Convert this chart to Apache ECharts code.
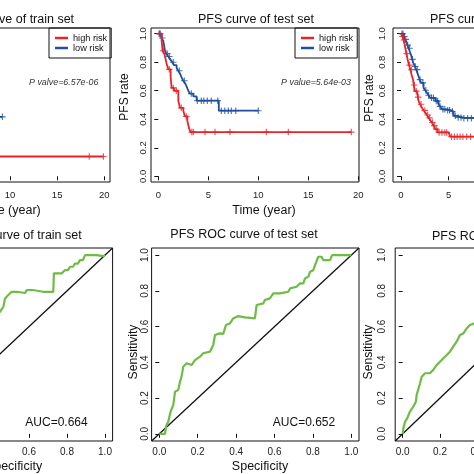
<!DOCTYPE html>
<html>
<head>
<meta charset="utf-8">
<script src="https://cdn.jsdelivr.net/npm/echarts@6/dist/echarts.min.js"></script>
<style>
html, body { margin: 0; padding: 0; background: #fff; overflow: hidden; width: 474px; height: 474px; }
/* the figure is wider than the window: the outer panels are cut off, as in the source image */
#main { position: absolute; left: -130px; top: 0; width: 760px; height: 474px; }
</style>
</head>
<body>
<div id="main"></div>
<script>
const OX = 130 // shift of the wide canvas against the window

// tick values
const survTicks = [0, 5, 10, 15, 20]
const rateTicks = [0, 0.2, 0.4, 0.6, 0.8, 1.0]
const rocTicks = [0, 0.2, 0.4, 0.6, 0.8, 1.0]

// PFS curve of train set: [time, survival after step]
const trainHigh = [[0, 1], [0.5, 0.85], [1, 0.7], [1.5, 0.55], [2, 0.42], [2.5, 0.32], [3, 0.25], [3.5, 0.2], [4.5, 0.16], [5.5, 0.139], [19.9, 0.139]]
const trainLow = [[0, 1], [0.5, 0.95], [1, 0.88], [1.5, 0.8], [2, 0.72], [3, 0.62], [4, 0.54], [5, 0.48], [6, 0.44], [7, 0.417], [9.2, 0.417]]
const trainHighCens = [6.5, 8.0, 18.4, 19.9]
const trainLowCens = [7.5, 8.3, 9.2]

// PFS curve of test set
const testHigh = [[0, 1], [0.33, 0.95], [0.43, 0.88], [0.6, 0.86], [0.67, 0.84], [0.83, 0.79], [1.0, 0.75], [1.23, 0.7], [1.33, 0.62], [1.57, 0.6], [2.0, 0.53], [2.17, 0.48], [2.5, 0.46], [2.67, 0.42], [2.9, 0.39], [3.1, 0.33], [3.23, 0.31], [19.3, 0.31]]
const testLow = [[0, 1], [0.3, 0.97], [0.5, 0.95], [0.67, 0.88], [0.8, 0.86], [1.0, 0.84], [1.2, 0.82], [1.4, 0.8], [1.57, 0.78], [1.83, 0.76], [2.0, 0.74], [2.17, 0.72], [2.35, 0.69], [2.5, 0.67], [2.7, 0.65], [2.83, 0.63], [3.0, 0.6], [3.17, 0.58], [3.5, 0.56], [3.83, 0.53], [6.05, 0.46], [10.0, 0.46]]
const testHighCens = [0.1, 0.5, 1.1, 1.5, 1.8, 2.3, 2.8, 3.35, 3.5, 4.67, 5.67, 7.17, 10.8, 13.0, 19.3]
const testLowCens = [0.1, 0.2, 0.4, 0.9, 1.1, 1.5, 2.1, 2.6, 3.3, 3.9, 4.3, 4.55, 4.9, 5.3, 5.95, 6.3, 6.65, 7.0, 7.3, 7.75, 10.0]

// PFS curve of entire set
const allHigh = [[0, 1], [0.15, 0.98], [0.28, 0.956], [0.36, 0.93], [0.45, 0.898], [0.57, 0.86], [0.7, 0.817], [0.84, 0.78], [0.98, 0.748], [1.12, 0.71], [1.26, 0.678], [1.35, 0.64], [1.43, 0.597], [1.68, 0.586], [1.77, 0.555], [1.85, 0.528], [2.0, 0.505], [2.2, 0.48], [2.38, 0.462], [2.55, 0.447], [2.72, 0.43], [2.9, 0.41], [3.08, 0.393], [3.25, 0.377], [3.42, 0.355], [3.6, 0.331], [3.84, 0.308], [5.0, 0.308], [5.17, 0.278], [16.0, 0.278]]
const allLow = [[0, 1], [0.28, 0.98], [0.42, 0.96], [0.56, 0.944], [0.68, 0.92], [0.8, 0.898], [0.92, 0.875], [1.05, 0.852], [1.18, 0.82], [1.32, 0.79], [1.46, 0.77], [1.6, 0.748], [1.72, 0.725], [1.85, 0.7], [1.97, 0.678], [2.1, 0.655], [2.37, 0.62], [2.55, 0.603], [2.72, 0.586], [2.9, 0.568], [3.07, 0.55], [3.6, 0.528], [3.95, 0.505], [4.1, 0.49], [4.3, 0.47], [4.83, 0.463], [5.25, 0.454], [5.52, 0.424], [5.87, 0.412], [6.57, 0.407], [9.0, 0.38], [16.0, 0.38]]
const allHighCens = [0.15, 0.3, 0.6, 0.9, 1.1, 1.4, 1.6, 1.8, 2.1, 2.5, 2.8, 3.0, 3.3, 3.5, 3.7, 4.0, 4.3, 4.6, 4.8, 5.3, 5.6, 5.9, 6.2, 6.5, 6.9, 7.3]
const allLowCens = [0.1, 0.2, 0.35, 0.5, 0.7, 0.9, 1.2, 1.5, 1.7, 2.0, 2.3, 2.6, 2.9, 3.2, 3.4, 3.7, 3.85, 4.1, 4.4, 4.6, 4.9, 5.1, 5.4, 5.7, 6.0, 6.3, 6.6, 7.0, 7.4]

// ROC curves: [specificity axis, sensitivity]
const trainRoc = [[0, 0], [0.02, 0.08], [0.05, 0.15], [0.1, 0.25], [0.15, 0.33], [0.2, 0.4], [0.25, 0.47], [0.3, 0.53], [0.35, 0.59], [0.4, 0.64], [0.447, 0.683], [0.465, 0.711], [0.474, 0.758], [0.491, 0.777], [0.509, 0.795], [0.535, 0.795], [0.545, 0.788], [0.58, 0.788], [0.588, 0.805], [0.62, 0.805], [0.675, 0.795], [0.728, 0.795], [0.731, 0.898], [0.772, 0.898], [0.789, 0.916], [0.805, 0.916], [0.816, 0.935], [0.832, 0.935], [0.842, 0.953], [0.858, 0.953], [0.868, 0.972], [0.884, 0.972], [0.895, 1.0], [0.956, 1.0], [0.991, 0.995], [1, 1]]
const testRoc = [[0, 0], [0.03, 0], [0.035, 0.041], [0.047, 0.069], [0.059, 0.125], [0.073, 0.162], [0.082, 0.236], [0.099, 0.246], [0.108, 0.292], [0.116, 0.32], [0.125, 0.376], [0.142, 0.395], [0.168, 0.385], [0.186, 0.413], [0.212, 0.432], [0.229, 0.451], [0.264, 0.46], [0.281, 0.497], [0.29, 0.553], [0.316, 0.562], [0.333, 0.559], [0.347, 0.609], [0.368, 0.618], [0.385, 0.646], [0.411, 0.659], [0.446, 0.652], [0.498, 0.646], [0.507, 0.721], [0.542, 0.73], [0.55, 0.749], [0.576, 0.758], [0.594, 0.786], [0.628, 0.786], [0.672, 0.795], [0.681, 0.814], [0.715, 0.823], [0.733, 0.842], [0.75, 0.842], [0.759, 0.87], [0.776, 0.879], [0.785, 0.907], [0.802, 0.916], [0.811, 0.944], [0.828, 0.991], [0.845, 0.991], [0.854, 0.972], [0.889, 0.972], [0.9, 1.0], [1.0, 1.0]]
const allRoc = [[0, 0], [0.004, 0.032], [0.013, 0.069], [0.025, 0.088], [0.039, 0.125], [0.057, 0.153], [0.071, 0.18], [0.075, 0.218], [0.084, 0.227], [0.093, 0.283], [0.102, 0.32], [0.12, 0.339], [0.128, 0.348], [0.146, 0.339], [0.164, 0.358], [0.182, 0.385], [0.2, 0.404], [0.218, 0.423], [0.236, 0.441], [0.253, 0.46], [0.271, 0.488], [0.289, 0.516], [0.307, 0.553], [0.325, 0.562], [0.343, 0.59], [0.36, 0.609], [0.382, 0.618], [0.45, 0.66], [0.55, 0.73], [0.65, 0.8], [0.75, 0.87], [0.85, 0.93], [0.95, 0.98], [1, 1]]
const refLine = [[-0.04, -0.04], [1.04, 1.04]]

const RED = '#ea2328'
const BLUE = '#1f4f9f'
const GREEN = '#6dbd44'
const FONT = '"Liberation Sans", Arial, sans-serif'
const PLUS = 'path://M-0.6,-3.5 h1.2 v2.9 h2.9 v1.2 h-2.9 v2.9 h-1.2 v-2.9 h-2.9 v-1.2 h2.9 z'

function survAt (steps, t) {
  let s = steps[0][1]
  steps.forEach((p) => { if (p[0] <= t) s = p[1] })
  return s
}

// plot boxes (x in window pixels, shifted by OX below)
const grids = [
  { left: -92, top: 28, width: 202, height: 154 },
  { left: 151, top: 28, width: 208, height: 154 },
  { left: 393, top: 28, width: 208, height: 154 },
  { left: -92.6, top: 248, width: 205.2, height: 193 },
  { left: 151.6, top: 248, width: 207.4, height: 193 },
  { left: 395.2, top: 248, width: 201.6, height: 193 }
]
const xRanges = [[-0.8, 20.6], [-0.73, 20.07], [-0.84, 21], [-0.04, 1.04], [-0.04, 1.04], [-0.04, 1.04]]
const yMargins = [3, 3, 5.5, 1, 1, 8]

let xAxes = []
let yAxes = []
grids.forEach((g, i) => {
  let surv = i < 3
  let xt = surv ? survTicks : rocTicks
  let yt = surv ? rateTicks : rocTicks
  xAxes.push({
    type: 'value',
    gridIndex: i,
    min: xRanges[i][0],
    max: xRanges[i][1],
    axisLine: { show: false },
    splitLine: { show: false },
    axisTick: { show: true, length: 4, customValues: xt, lineStyle: { color: '#111' } },
    axisLabel: {
      customValues: xt,
      color: '#222',
      fontFamily: FONT,
      fontSize: surv ? 9.5 : 10,
      margin: surv ? 8 : 6,
      formatter: (v) => surv ? String(Math.round(v)) : v.toFixed(1)
    }
  })
  yAxes.push({
    type: 'value',
    gridIndex: i,
    min: -0.04,
    max: 1.04,
    axisLine: { show: false },
    splitLine: { show: false },
    axisTick: { show: true, length: 4, customValues: yt, lineStyle: { color: '#111' } },
    axisLabel: {
      customValues: yt,
      rotate: 90,
      color: '#222',
      fontFamily: FONT,
      fontSize: surv ? 9.5 : 10,
      margin: yMargins[i],
      formatter: (v) => v.toFixed(1)
    }
  })
})

let series = []
const survSets = [
  [trainHigh, trainLow, trainHighCens, trainLowCens],
  [testHigh, testLow, testHighCens, testLowCens],
  [allHigh, allLow, allHighCens, allLowCens]
]
survSets.forEach((set, i) => {
  [[set[0], set[2], 'high risk', RED], [set[1], set[3], 'low risk', BLUE]].forEach((c) => {
    series.push({
      type: 'line',
      name: c[2],
      step: 'end',
      xAxisIndex: i,
      yAxisIndex: i,
      data: c[0],
      showSymbol: false,
      lineStyle: { color: c[3], width: 1.8 },
      itemStyle: { color: c[3] },
      z: c[3] === RED ? 3 : 2
    })
    // censor marks
    series.push({
      type: 'scatter',
      name: c[2] + ' censored',
      xAxisIndex: i,
      yAxisIndex: i,
      data: c[1].map((t) => [t, survAt(c[0], t)]),
      symbol: PLUS,
      symbolSize: 6.5,
      itemStyle: { color: c[3] },
      z: c[3] === RED ? 3 : 2
    })
  })
})
;[trainRoc, testRoc, allRoc].forEach((roc, k) => {
  let i = k + 3
  series.push({
    type: 'line',
    name: 'diag',
    xAxisIndex: i,
    yAxisIndex: i,
    data: refLine,
    showSymbol: false,
    lineStyle: { color: '#111', width: 1.3 },
    z: 2
  })
  series.push({
    type: 'line',
    name: 'roc',
    xAxisIndex: i,
    yAxisIndex: i,
    data: roc,
    showSymbol: false,
    lineStyle: { color: GREEN, width: 2.2 },
    z: 3
  })
})

function legendAt (left) {
  return {
    data: ['high risk', 'low risk'],
    orient: 'vertical',
    left: left + OX,
    top: 28,
    icon: 'rect',
    itemWidth: 13,
    itemHeight: 2.5,
    itemGap: 0,
    padding: [5, 4, 5, 6],
    borderColor: '#111',
    borderWidth: 1,
    borderRadius: 0,
    selectedMode: false,
    textStyle: { fontFamily: FONT, fontSize: 9.2, color: '#111', lineHeight: 10 }
  }
}

function txt (text, x, y, size, opts) {
  opts = opts || {}
  return {
    type: 'text',
    x: x + OX,
    y: y,
    rotation: opts.rot ? Math.PI / 2 : 0,
    style: {
      text: text,
      font: (opts.italic ? 'italic ' : '') + size + 'px ' + FONT,
      fill: opts.fill || '#111',
      align: opts.align || 'center',
      verticalAlign: 'middle'
    }
  }
}

const graphics = [
  txt('PFS curve of train set', 14, 20, 12.5),
  txt('PFS curve of test set', 256, 20, 12.5),
  txt('PFS curve of entire set', 430, 20, 12.5, { align: 'left' }),
  txt('PFS ROC curve of train set', 6, 236, 12.5),
  txt('PFS ROC curve of test set', 244, 235, 12.5),
  txt('PFS ROC curve of entire set', 432, 236.5, 12.5, { align: 'left' }),
  txt('Time (year)', 9, 211, 12.5),
  txt('Time (year)', 264, 211, 12.5),
  txt('Time (year)', 512, 211, 12.5),
  txt('Specificity', 14, 467, 12.5),
  txt('Specificity', 260, 467, 12.5),
  txt('Specificity', 508, 467, 12.5),
  txt('PFS rate', -118, 97, 12, { rot: true }),
  txt('PFS rate', 125, 97, 12, { rot: true }),
  txt('PFS rate', 370, 98, 12, { rot: true }),
  txt('Sensitivity', -110, 352, 12.2, { rot: true }),
  txt('Sensitivity', 133.3, 352, 12.2, { rot: true }),
  txt('Sensitivity', 368.3, 352, 12.2, { rot: true }),
  txt('P valve=6.57e-06', 63.7, 82.3, 8.9, { italic: true, fill: '#333' }),
  txt('P value=5.64e-03', 316, 82.3, 8.9, { italic: true, fill: '#333' }),
  txt('AUC=0.664', 56.5, 423, 12),
  txt('AUC=0.652', 304, 423, 12)
]

let myChart = echarts.init(document.getElementById('main'))
let option = {
  animation: false,
  backgroundColor: '#fff',
  grid: grids.map((g) => Object.assign({ show: true, borderColor: '#111', borderWidth: 1, backgroundColor: 'transparent' }, g, { left: g.left + OX })),
  xAxis: xAxes,
  yAxis: yAxes,
  legend: [legendAt(49), legendAt(295), legendAt(537)],
  series: series,
  graphic: graphics
}
myChart.setOption(option)
</script>
</body>
</html>
